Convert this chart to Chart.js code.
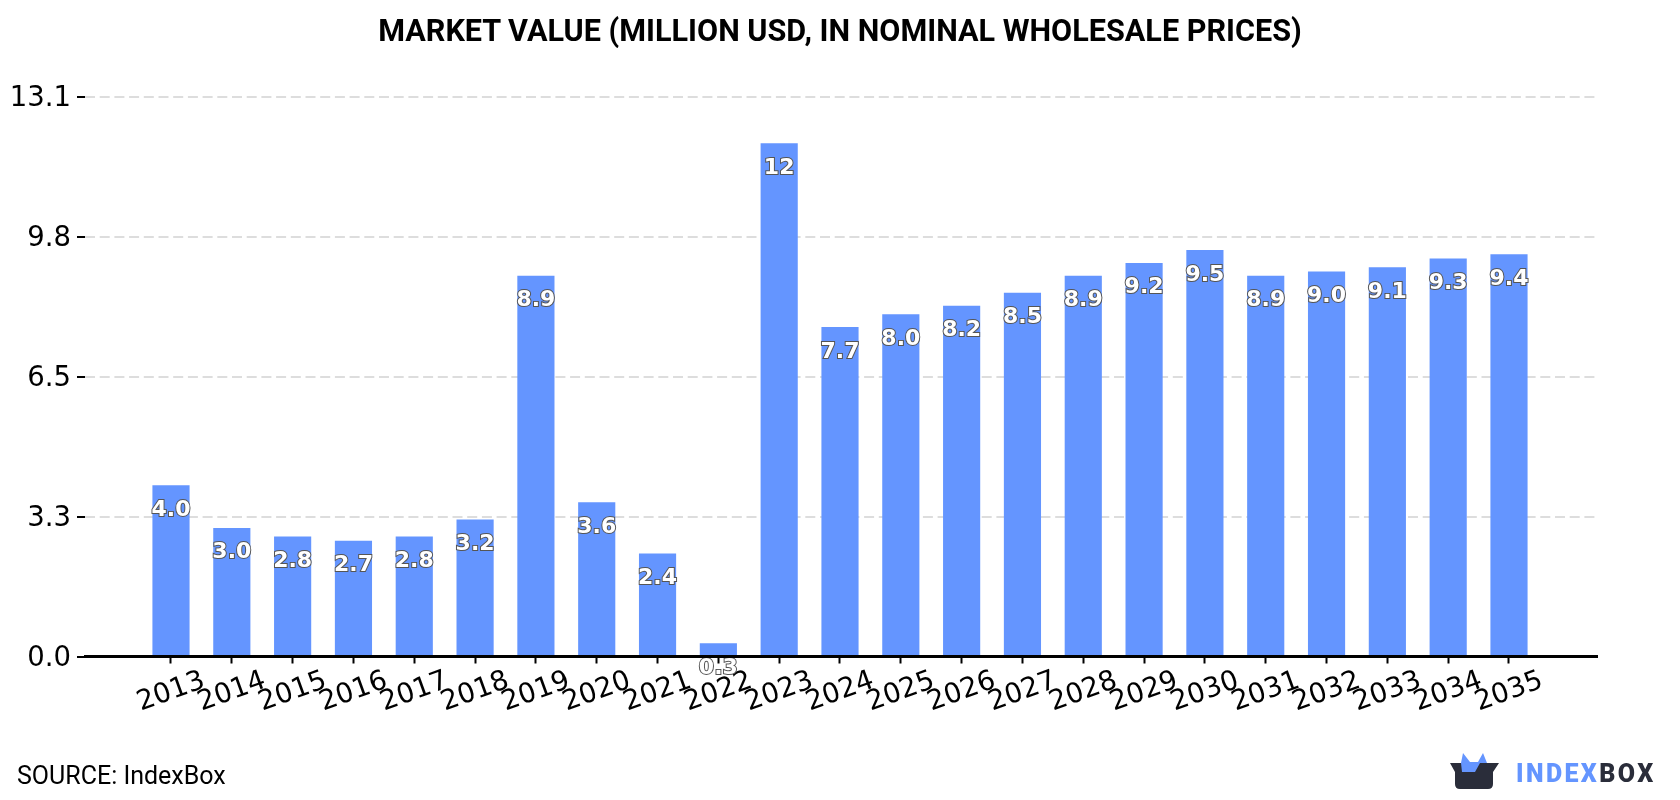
<!DOCTYPE html>
<html>
<head>
<meta charset="utf-8">
<title>Market value</title>
<script src="https://cdn.jsdelivr.net/npm/chart.js@4/dist/chart.umd.min.js"></script>
<style>
  html, body { margin: 0; padding: 0; background: #fff; }
  #wrap { position: relative; width: 1680px; height: 800px; overflow: hidden; }
  #title { position: absolute; left: 0; width: 1680px; top: 12px; text-align: center; font: bold 30.6px Roboto, sans-serif; line-height: 38px; color: #000; }
  #source { position: absolute; left: 17px; top: 761px; font: 25px Roboto, sans-serif; color: #000; line-height: 30px; }
  #logo { position: absolute; left: 1450px; top: 750px; }
  #brand { position: absolute; left: 1516px; top: 759px; font: 900 25px Roboto, sans-serif; letter-spacing: 2.4px; line-height: 30px; color: #6495ff; }
  #brand span { color: #2a2d3a; }
</style>
</head>
<body>
<div id="wrap">
  <canvas id="marketChart" width="1680" height="800"></canvas>
  <div id="title">MARKET VALUE (MILLION USD, IN NOMINAL WHOLESALE PRICES)</div>
  <div id="source">SOURCE: IndexBox</div>
  <svg id="logo" width="50" height="42" viewBox="0 0 50 42">
    <path d="M0 13 H49 L43 22 V34 Q43 39 38 39 H10 Q5 39 5 34 V22 Z" fill="#2a2d3a"/>
    <path d="M11 13 L13 3 L20 12 H28 L33 3 L37 13 H30 L25 22 H12 Z" fill="#6495ff"/>
  </svg>
  <div id="brand">INDEX<span>BOX</span></div>
</div>
<script>
const years = [2013,2014,2015,2016,2017,2018,2019,2020,2021,2022,2023,2024,2025,2026,2027,2028,2029,2030,2031,2032,2033,2034,2035];
const marketValue = [4.0,3.0,2.8,2.7,2.8,3.2,8.9,3.6,2.4,0.3,12,7.7,8.0,8.2,8.5,8.9,9.2,9.5,8.9,9.0,9.1,9.3,9.4];
const yTicks = [0,3.275,6.55,9.825,13.1];

const BAR_COLOR = '#6495ff';

// white value labels with a thin outline, hanging just under each bar top
const valueLabels = {
  id: 'valueLabels',
  afterDatasetsDraw(chart) {
    const ctx = chart.ctx;
    const meta = chart.getDatasetMeta(0);
    ctx.save();
    ctx.font = 'bold 22px "DejaVu Sans"';
    ctx.textAlign = 'center';
    ctx.textBaseline = 'middle';
    ctx.lineWidth = 2;
    ctx.strokeStyle = '#555';
    ctx.fillStyle = '#fff';
    meta.data.forEach((bar, i) => {
      const v = marketValue[i];
      const text = v >= 10 ? String(v) : v.toFixed(1);
      ctx.strokeText(text, bar.x, bar.y + 24.5);
      ctx.fillText(text, bar.x, bar.y + 24.5);
    });
    ctx.restore();
  }
};

new Chart(document.getElementById('marketChart').getContext('2d'), {
  type: 'bar',
  data: {
    labels: years,
    datasets: [{
      data: marketValue,
      backgroundColor: BAR_COLOR,
      barThickness: 36.5
    }]
  },
  plugins: [valueLabels],
  options: {
    responsive: false,
    animation: false,
    layout: { padding: { top: 96.5, right: 83 } },
    plugins: {
      legend: { display: false },
      tooltip: { enabled: false }
    },
    scales: {
      x: {
        type: 'linear',
        offset: false,
        min: 2011.586,
        max: 2036.447,
        afterBuildTicks(scale) {
          scale.ticks = years.map(y => ({ value: y }));
        },
        afterFit(scale) { scale.height = 143.5; },
        grid: { offset: false, drawOnChartArea: false, tickColor: '#000', tickWidth: 2, tickLength: 7 },
        border: { color: '#000', width: 3, z: 1 },
        ticks: {
          autoSkip: false,
          minRotation: 20,
          maxRotation: 20,
          labelOffset: 33,
          padding: 1,
          color: '#000',
          font: { family: 'DejaVu Sans', size: 27.5 },
          callback: v => String(v)
        }
      },
      y: {
        min: 0,
        max: 13.1,
        afterBuildTicks(scale) {
          scale.ticks = yTicks.map(v => ({ value: v }));
        },
        afterFit(scale) { scale.width = 85; },
        grid: {
          color: '#dddddd',
          lineWidth: 2,
          tickColor: '#000',
          tickLength: 8,
          tickBorderDash: [],
          tickWidth: 2
        },
        border: { display: false, dash: [10, 4.7] },
        ticks: {
          padding: 6,
          labelOffset: 2,
          color: '#000',
          font: { family: 'DejaVu Sans', size: 27.5 },
          callback: v => v.toFixed(1)
        }
      }
    }
  }
});
</script>
</body>
</html>
